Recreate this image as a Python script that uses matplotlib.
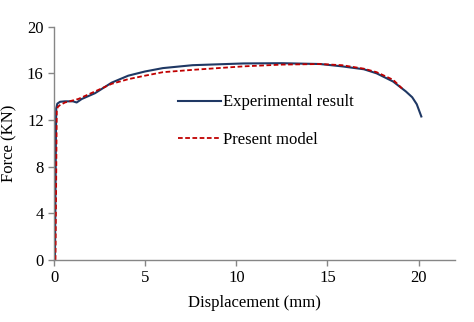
import numpy as np
import matplotlib.pyplot as plt

plt.rcParams['font.family'] = ['Liberation Serif', 'DejaVu Serif']

# experimental force-displacement curve
exp_disp = [0.05, 0.1, 0.12, 0.18, 0.33, 0.6, 1.04, 1.24, 1.52, 2.25, 3.16, 4.07,
            4.99, 5.97, 7.6, 10.4, 12.5, 14.6, 15.8, 17.0, 17.7, 18.6, 19.3,
            19.65, 19.9, 20.15]
exp_force = [0, 10.0, 13.0, 13.4, 13.56, 13.6, 13.6, 13.5, 13.8, 14.3, 15.2, 15.8,
             16.16, 16.45, 16.7, 16.85, 16.87, 16.8, 16.6, 16.35, 16.0, 15.3, 14.45,
             13.95, 13.35, 12.3]

# numerical model
mod_disp = [0.08, 0.15, 0.2, 0.3, 0.6, 1.33, 2.25, 3.16, 4.07, 4.99, 5.97, 7.6,
            10.4, 12.5, 14.6, 15.8, 17.0, 17.7, 18.6, 19.1]
mod_force = [0, 12.8, 13.1, 13.25, 13.5, 13.8, 14.45, 15.1, 15.5, 15.8, 16.1, 16.3,
             16.6, 16.75, 16.8, 16.7, 16.4, 16.1, 15.45, 14.7]

fig = plt.figure(figsize=(4.74, 3.22), dpi=100)
ax = fig.add_axes([0.114, 0.193, 0.846, 0.724])

ax.plot(exp_disp, exp_force, color='#1f3864', lw=1.5, label='Experimental result')
ax.plot(mod_disp, mod_force, color='#c00000', lw=1.3, ls=(0, (2.6, 1.4)),
        label='Present model')

ax.set_xlim(0, 22)
ax.set_ylim(0, 20)
ax.set_xticks([0, 5, 10, 15, 20])
ax.set_yticks([0, 4, 8, 12, 16, 20])

for side in ['top', 'right']:
    ax.spines[side].set_visible(False)
for side in ['left', 'bottom']:
    ax.spines[side].set_color('#868686')
    ax.spines[side].set_linewidth(1.0)
ax.tick_params(colors='#868686', labelcolor='black', labelsize=12, length=4, width=1)

ax.set_xlabel('Displacement (mm)', fontsize=12, labelpad=6)
ax.set_ylabel('Force (KN)', fontsize=12, labelpad=7)

ax.legend(loc='upper left', bbox_to_anchor=(0.292, 0.738), frameon=False,
          fontsize=12, handlelength=2.6, handletextpad=0.1, labelspacing=1.3,
          borderaxespad=0)

fig.savefig('out.png', dpi=100)
